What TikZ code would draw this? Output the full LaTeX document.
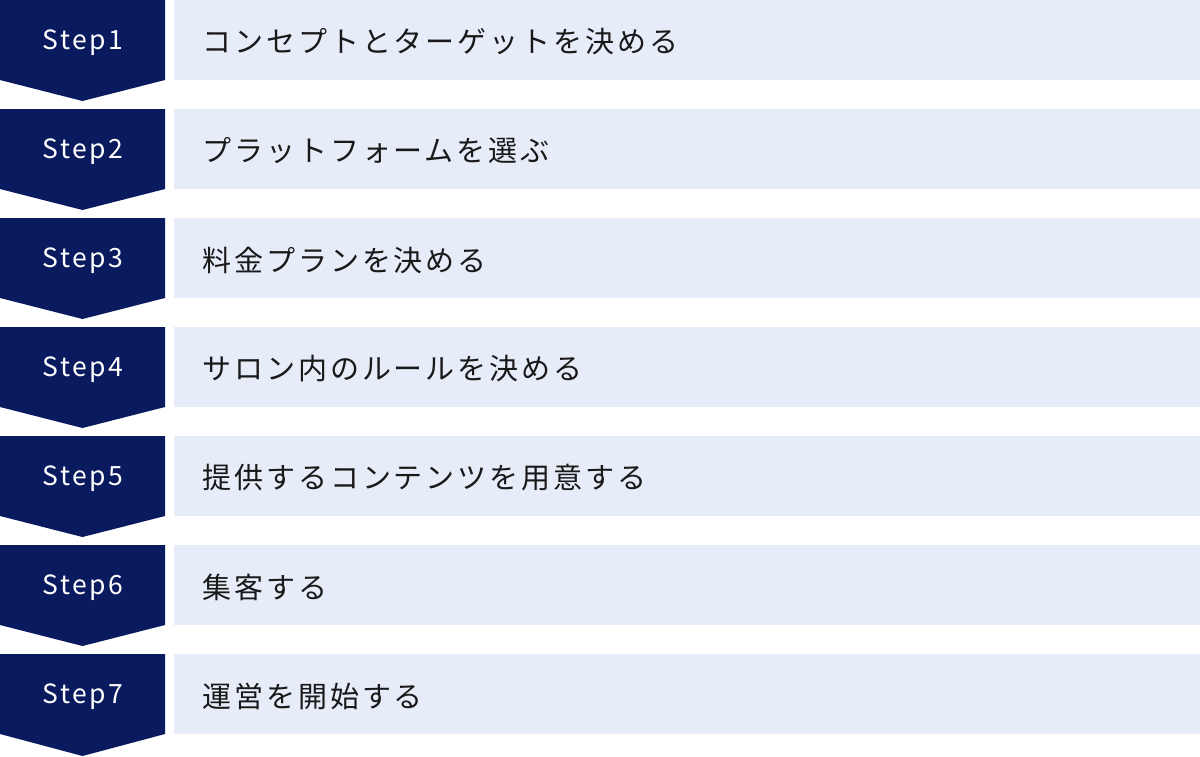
\documentclass[tikz,border=0pt]{standalone}
\usepackage{fontspec}
\newfontfamily\jpfont[LetterSpace=10]{Noto Sans CJK JP}
\newfontfamily\stepfont[LetterSpace=10]{Noto Sans CJK JP}
\definecolor{stepnavy}{HTML}{0A1A5F}
\definecolor{rowblue}{HTML}{E6ECF8}
\tikzset{
  stepbadge/.style={fill=stepnavy},
  rowband/.style={fill=rowblue},
  steplabel/.style={text=white, font=\stepfont\fontsize{26.5}{30}\selectfont},
  rowtext/.style={anchor=west, text=black!90, font=\jpfont\fontsize{29}{33}\selectfont}
}

\begin{document}
\begin{tikzpicture}[x=1pt,y=-1pt]
    \useasboundingbox (0,0) rectangle (1200,756);
    % step 1
    \fill[stepbadge] (0,0)--(165,0)--(165,80)--(82.5,101)--(0,80)--cycle;
    \fill[rowband] (174,0) rectangle (1200,80);
    \node[steplabel] (step1) at (83,43) {Step1};
    \node[rowtext] (task1) at (199,42) {コンセプトとターゲットを決める};
    % step 2
    \fill[stepbadge] (0,109)--(165,109)--(165,189)--(82.5,210)--(0,189)--cycle;
    \fill[rowband] (174,109) rectangle (1200,189);
    \node[steplabel] (step2) at (83,152) {Step2};
    \node[rowtext] (task2) at (199,151) {プラットフォームを選ぶ};
    % step 3
    \fill[stepbadge] (0,218)--(165,218)--(165,298)--(82.5,319)--(0,298)--cycle;
    \fill[rowband] (174,218) rectangle (1200,298);
    \node[steplabel] (step3) at (83,261) {Step3};
    \node[rowtext] (task3) at (199,260) {料金プランを決める};
    % step 4
    \fill[stepbadge] (0,327)--(165,327)--(165,407)--(82.5,428)--(0,407)--cycle;
    \fill[rowband] (174,327) rectangle (1200,407);
    \node[steplabel] (step4) at (83,370) {Step4};
    \node[rowtext] (task4) at (199,369) {サロン内のルールを決める};
    % step 5
    \fill[stepbadge] (0,436)--(165,436)--(165,516)--(82.5,537)--(0,516)--cycle;
    \fill[rowband] (174,436) rectangle (1200,516);
    \node[steplabel] (step5) at (83,479) {Step5};
    \node[rowtext] (task5) at (199,478) {提供するコンテンツを用意する};
    % step 6
    \fill[stepbadge] (0,545)--(165,545)--(165,625)--(82.5,646)--(0,625)--cycle;
    \fill[rowband] (174,545) rectangle (1200,625);
    \node[steplabel] (step6) at (83,588) {Step6};
    \node[rowtext] (task6) at (199,587) {集客する};
    % step 7
    \fill[stepbadge] (0,654)--(165,654)--(165,734)--(82.5,756)--(0,734)--cycle;
    \fill[rowband] (174,654) rectangle (1200,734);
    \node[steplabel] (step7) at (83,697) {Step7};
    \node[rowtext] (task7) at (199,696) {運営を開始する};
\end{tikzpicture}
\end{document}
